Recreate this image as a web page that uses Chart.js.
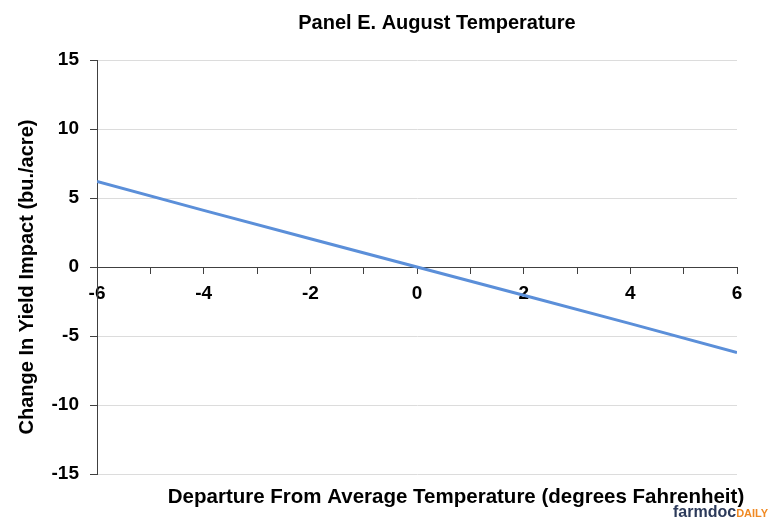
<!DOCTYPE html>
<html>
<head>
<meta charset="utf-8">
<script src="https://cdn.jsdelivr.net/npm/chart.js@4/dist/chart.umd.min.js"></script>
<style>
  body { margin: 0; background: #fff; }
  canvas { display: block; }
</style>
</head>
<body>
<canvas id="chart" width="768" height="522"></canvas>
<script>
// ===== Data =====
const tempDeparture = [-6, -4, -2, 0, 2, 4, 6];
const yieldImpact = [6.2, 4.1, 2.05, 0, -2.05, -4.1, -6.2];
const yTicks = [-15, -10, -5, 0, 5, 10, 15];
const xLabelStep = 2;

const chartTitle = 'Panel E. August Temperature';
const xTitle = 'Departure From Average Temperature (degrees Fahrenheit)';
const yTitle = 'Change In Yield Impact (bu./acre)';

const FONT = '"Liberation Sans", Arial, sans-serif';
const AXIS_COLOR = '#404040';

// ===== Text (titles + watermark) =====
const textPlugin = {
    id: 'texts',
    afterDraw(chart) {
        const c = chart.ctx;
        c.save();
        c.fillStyle = '#000';
        c.textBaseline = 'middle';
        c.textAlign = 'center';
        c.font = 'bold 20px ' + FONT;
        c.fillText(chartTitle, 437, 23);
        c.font = 'bold 20.5px ' + FONT;
        c.fillText(xTitle, 456, 497);

        c.save();
        c.translate(27, 277);
        c.rotate(-Math.PI / 2);
        c.font = 'bold 20px ' + FONT;
        c.fillText(yTitle, 0, 0);
        c.restore();

        // watermark
        c.textBaseline = 'alphabetic';
        c.textAlign = 'left';
        c.font = 'bold 16px ' + FONT;
        c.fillStyle = '#2c3a5a';
        c.fillText('farmdoc', 673, 517);
        const w = c.measureText('farmdoc').width;
        c.font = 'bold 11px ' + FONT;
        c.fillStyle = '#f08a24';
        c.fillText('DAILY', 673 + w, 517);
        c.restore();
    }
};

const ctx = document.getElementById('chart').getContext('2d');
new Chart(ctx, {
    type: 'line',
    data: {
        datasets: [{
            data: tempDeparture.map((x, i) => ({ x: x, y: yieldImpact[i] })),
            borderColor: '#5b8fd9',
            borderWidth: 3,
            pointRadius: 0,
            tension: 0
        }]
    },
    options: {
        responsive: false,
        animation: false,
        layout: { padding: { left: 0, top: 60, right: 31, bottom: 48 } },
        plugins: { legend: { display: false }, tooltip: { enabled: false } },
        scales: {
            x: {
                type: 'linear',
                position: { y: 0 },
                min: -6,
                max: 6,
                afterFit(s) { s.height = 0; },
                ticks: {
                    stepSize: 1,
                    autoSkip: false,
                    maxRotation: 0,
                    padding: 9,
                    color: '#000',
                    font: { family: FONT, size: 19, weight: 'bold' },
                    callback: v => (v % xLabelStep === 0 ? String(v) : '')
                },
                grid: { drawOnChartArea: false, tickLength: 6, tickColor: AXIS_COLOR },
                border: { color: AXIS_COLOR, width: 1 }
            },
            y: {
                min: -15,
                max: 15,
                afterFit(s) { s.width = 97; },
                afterBuildTicks(s) { s.ticks = yTicks.map(v => ({ value: v })); },
                ticks: {
                    padding: 11,
                    color: '#000',
                    font: { family: FONT, size: 19, weight: 'bold' }
                },
                grid: { color: '#dcdcdc', tickLength: 7, tickColor: AXIS_COLOR },
                border: { color: AXIS_COLOR, width: 1 }
            }
        }
    },
    plugins: [textPlugin]
});
</script>
</body>
</html>
